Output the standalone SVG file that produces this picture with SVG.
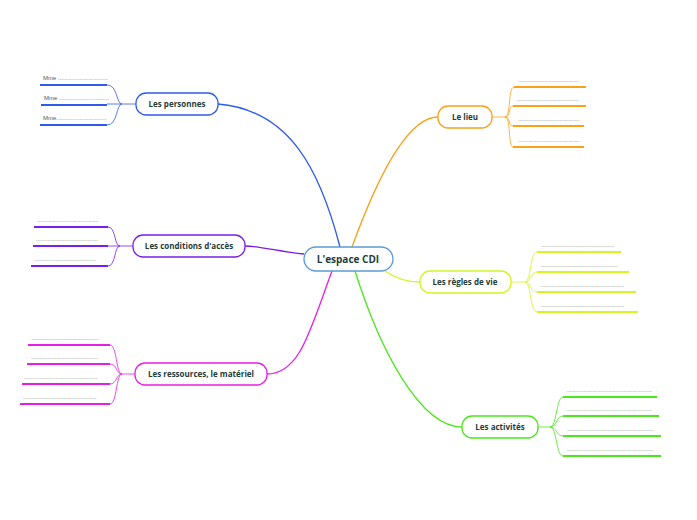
<svg xmlns="http://www.w3.org/2000/svg" width="697" height="520" viewBox="0 0 697 520">
<style>
.n{fill:#fff;stroke-width:1.3}
.t{font-family:"Open Sans","Noto Sans",sans-serif;font-size:8px;font-weight:bold;fill:#1f3d3a;text-anchor:middle}
.d{font-family:"Liberation Sans",sans-serif;font-size:6px;fill:#555}
.c{fill:none;stroke-width:1.3}
.l{fill:none;stroke-width:0.8}
.u{stroke-width:1.8}
</style>
<rect width="697" height="520" fill="#fff"/>
<g id="connectors">
<path class="c" stroke="#2f5bea" d="M340 247 C320 170 290 110 218 104"/>
<path class="c" stroke="#f9a11b" d="M352 247 C380 170 410 117 438 117"/>
<path class="c" stroke="#7a1fe8" d="M304 254 C280 252 260 246 245 246"/>
<path class="c" stroke="#d4f51f" d="M385 271 C395 278 405 282 420 282"/>
<path class="c" stroke="#e61ee6" d="M332 271 C310 330 300 374 267 374"/>
<path class="c" stroke="#4be61e" d="M355 271 C380 350 420 427 462 427"/>
<g stroke="#2f5bea"><path class="l" d="M136 104 H122 C116 104 118 85 107 85 M122 104 H107 M122 104 C116 104 118 125 107 125"/>
<path class="u" d="M40 85H107M41 105H107M40 125H107"/></g>
<g stroke="#f9a11b"><path class="l" d="M492 117 H505 C511 117 508 87 514 87 M505 117 C511 117 508 106 513 106 M505 117 C511 117 508 126 513 126 M505 117 C511 117 508 147 513 147"/>
<path class="u" d="M514 87H586M513 106H586M513 126H584M513 147H584"/></g>
<g stroke="#7a1fe8"><path class="l" d="M133 246 H120 C114 246 116 227 108 227 M120 246 H108 M120 246 C114 246 116 266 108 266"/>
<path class="u" d="M34 227H108M33 246H108M31 266H108"/></g>
<g stroke="#d4f51f"><path class="l" d="M511 282 H525 C531 282 530 252 537 252 M525 282 C531 282 530 272 537 272 M525 282 C531 282 530 292 537 292 M525 282 C531 282 530 312 537 312"/>
<path class="u" d="M537 252H621M537 272H629M537 292H636M537 312H638"/></g>
<g stroke="#e61ee6"><path class="l" d="M135 374 H122 C116 374 117 345 110 345 M122 374 C116 374 117 364 110 364 M122 374 C116 374 117 384 110 384 M122 374 C116 374 117 404 110 404"/>
<path class="u" d="M28 345H110M27 364H110M22 384H110M20 404H110"/></g>
<g stroke="#4be61e"><path class="l" d="M538 427 H550 C557 427 556 397 563 397 M550 427 C557 427 556 416 563 416 M550 427 C557 427 556 436 563 436 M550 427 C557 427 556 456 563 456"/>
<path class="u" d="M563 397H657M563 416H659M563 436H661M563 456H661"/></g>
</g>
<g id="center"><rect class="n" stroke="#5b9bd5" x="304" y="247" width="89" height="24" rx="12"/><text class="t" style="font-size:10px" x="348" y="263">L'espace CDI</text></g>
<g id="personnes"><rect class="n" stroke="#2f5bea" x="136" y="93" width="82" height="22" rx="10"/><text class="t" x="177" y="107">Les personnes</text>
<text class="d" x="43" y="80">Mme ..............................</text><text class="d" x="44" y="100">Mme ..............................</text><text class="d" x="43" y="120">Mme..............................</text></g>
<g id="lieu"><rect class="n" stroke="#f9a11b" x="438" y="106" width="54" height="22" rx="10"/><text class="t" x="465" y="120">Le lieu</text>
<text class="d" x="518" y="82">.....................................</text><text class="d" x="517" y="101">.....................................</text><text class="d" x="518" y="121">.....................................</text><text class="d" x="518" y="142">.....................................</text></g>
<g id="conditions"><rect class="n" stroke="#7a1fe8" x="133" y="235" width="112" height="22" rx="10"/><text class="t" x="189" y="249">Les conditions d'accès</text>
<text class="d" x="37" y="222">.....................................</text><text class="d" x="36" y="241">.....................................</text><text class="d" x="34" y="261">.....................................</text></g>
<g id="regles"><rect class="n" stroke="#d4f51f" x="420" y="271" width="91" height="22" rx="10"/><text class="t" x="465" y="285">Les règles de vie</text>
<text class="d" x="541" y="247">............................................</text><text class="d" x="541" y="267">..............................................</text><text class="d" x="541" y="287">..................................................</text><text class="d" x="541" y="307">..................................................</text></g>
<g id="ressources"><rect class="n" stroke="#e61ee6" x="135" y="363" width="132" height="22" rx="10"/><text class="t" x="201" y="377">Les ressources, le matériel</text>
<text class="d" x="32" y="340">........................................</text><text class="d" x="31" y="359">........................................</text><text class="d" x="24" y="379">............................................</text><text class="d" x="23" y="399">............................................</text></g>
<g id="activites"><rect class="n" stroke="#4be61e" x="462" y="416" width="76" height="22" rx="10"/><text class="t" x="500" y="430">Les activités</text>
<text class="d" x="567" y="392">...................................................</text><text class="d" x="567" y="411">...................................................</text><text class="d" x="567" y="431">....................................................</text><text class="d" x="567" y="451">....................................................</text></g>
</svg>
